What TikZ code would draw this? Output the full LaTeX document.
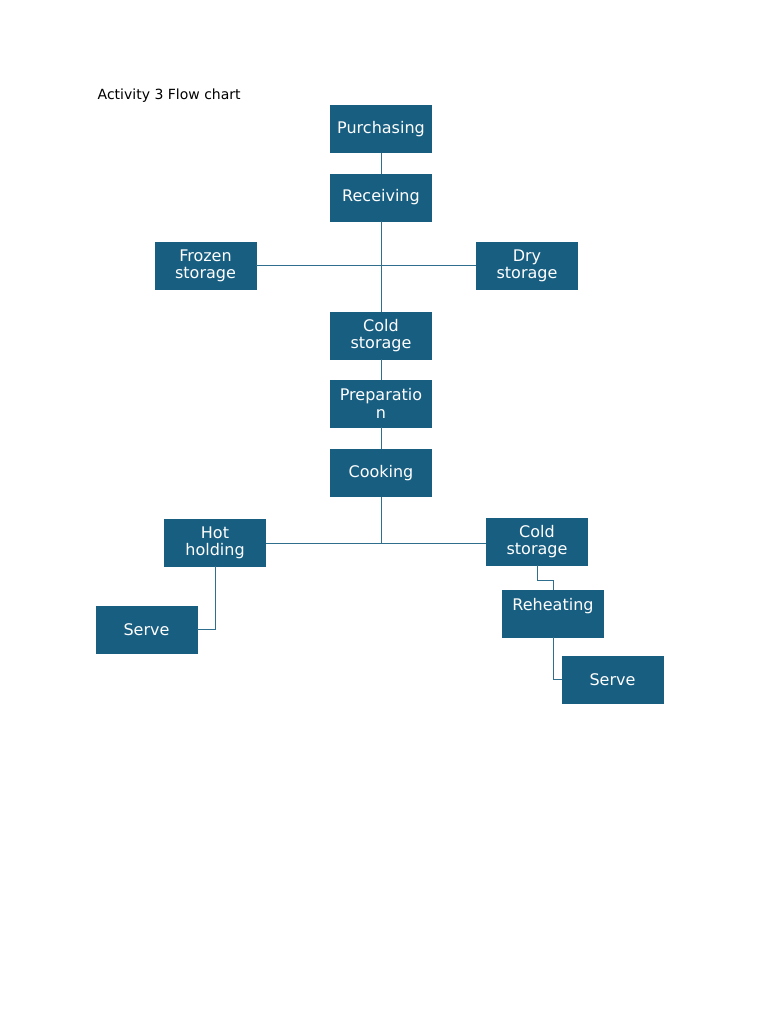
\documentclass[tikz,border=0pt]{standalone}
\usepackage{fontspec}
\setmainfont{DejaVu Sans}
\definecolor{boxc}{HTML}{175E81}
\definecolor{linec}{HTML}{2F6E8C}
\begin{document}
\begin{tikzpicture}[x=0.75pt,y=-0.75pt,
  box/.style={draw=boxc,fill=boxc,text=white,minimum width=76pt,minimum height=35pt,inner sep=1pt,align=center,font=\fontsize{12}{13}\selectfont},
  conn/.style={draw=linec,line width=0.7pt}]
\useasboundingbox (0,0) rectangle (768,1024);
\node[anchor=west,font=\fontsize{10.5}{12}\selectfont] (title) at (93,96) {Activity 3 Flow chart};
\node[box] (pur) at (381,129) {Purchasing};
\node[box] (rec) at (381,197.5) {Receiving};
\node[box] (fro) at (205.5,265.5) {Frozen\\storage};
\node[box] (dry) at (527,265.5) {Dry\\storage};
\node[box] (cold) at (381,335.5) {Cold\\storage};
\node[box] (prep) at (381,403.5) {Preparatio\\n};
\node[box] (cook) at (381,473) {Cooking};
\node[box] (hot) at (215,542.5) {Hot\\holding};
\node[box] (cold2) at (537,541.5) {Cold\\storage};
\node[box] (serve1) at (146.5,629.5) {Serve};
\node[box,text depth=14pt] (reh) at (553,613.5) {Reheating};
\node[box] (serve2) at (612.5,679.5) {Serve};
\coordinate (j1) at (381,265.5);
\coordinate (j2) at (381,543);
\draw[conn] (pur) -- (rec);
\draw[conn] (rec) -- (cold);
\draw[conn] (fro) -- (dry);
\draw[conn] (cold) -- (prep);
\draw[conn] (prep) -- (cook);
\draw[conn] (cook) -- (j2) -- (hot.east|-j2);
\draw[conn] (j2) -- (j2-|cold2.west);
\draw[conn] (hot) |- (serve1);
\draw[conn] (cold2.south) -- ++(0,15) -| (reh.north);
\draw[conn] (reh.south) |- (serve2);
\end{tikzpicture}
\end{document}
